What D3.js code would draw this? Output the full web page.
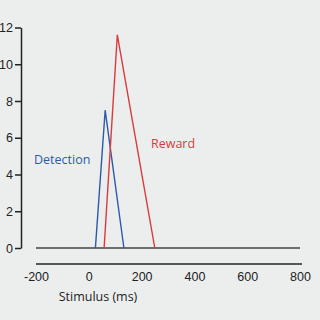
<!DOCTYPE html>
<html>
<head>
<meta charset="utf-8">
<script src="https://cdn.jsdelivr.net/npm/d3@7"></script>
<style>
  body { margin: 0; background: #eceeee; }
  svg { display: block; font-family: "Open Sans", sans-serif; }
</style>
</head>
<body>
<div id="chart"></div>
<script>
// values
const xTicks = [-200, 0, 200, 400, 600, 800];
const yTicks = [0, 2, 4, 6, 8, 10, 12];
const baseline = [[-200, 0], [800, 0]];
const detection = [[25, 0], [62, 7.5], [133, 0]];
const reward = [[58, 0], [108, 11.6], [250, 0]];

const W = 320, H = 320;

const svg = d3.select("#chart").append("svg")
  .attr("width", W)
  .attr("height", H);

const x = d3.scaleLinear().domain([-200, 800]).range([36, 300]);
const y = d3.scaleLinear().domain([0, 12]).range([248, 27.5]);

// y axis
const yAxis = svg.append("g")
  .attr("transform", "translate(21,0)")
  .call(d3.axisLeft(y).tickValues(yTicks).tickSize(6).tickSizeOuter(0).tickPadding(2));
yAxis.select(".domain").attr("stroke", "#222").attr("stroke-width", 1.5);
yAxis.selectAll(".tick line").attr("stroke", "#222").attr("stroke-width", 1.5);
yAxis.selectAll("text").attr("fill", "#222").style("font-size", "12.5px");

// x axis (no tick marks)
const xAxis = svg.append("g")
  .attr("transform", "translate(0,264)")
  .call(d3.axisBottom(x).tickValues(xTicks).tickFormat(d => String(d))
    .tickSize(0).tickPadding(8).tickSizeOuter(0));
xAxis.select(".domain").attr("stroke", "#222").attr("stroke-width", 1.5)
  .attr("d", `M${x(-200)},0H${x(800) + 2}`);
xAxis.selectAll("text").attr("fill", "#222").style("font-size", "12.5px");

svg.append("text")
  .attr("x", 98).attr("y", 301)
  .attr("text-anchor", "middle")
  .attr("fill", "#222")
  .style("font-size", "12.5px")
  .text("Stimulus (ms)");

const line = d3.line().x(d => x(d[0])).y(d => y(d[1]));

svg.append("path").datum(baseline)
  .attr("d", line).attr("fill", "none")
  .attr("stroke", "#444").attr("stroke-width", 1.5);

svg.append("path").datum(detection)
  .attr("d", line).attr("fill", "none")
  .attr("stroke", "#2d5aa8").attr("stroke-width", 1.4);

svg.append("path").datum(reward)
  .attr("d", line).attr("fill", "none")
  .attr("stroke", "#d93b3b").attr("stroke-width", 1.4);

svg.append("text")
  .attr("x", 34).attr("y", 164)
  .attr("fill", "#2d5aa8")
  .style("font-size", "12.5px")
  .text("Detection");

svg.append("text")
  .attr("x", 151).attr("y", 148)
  .attr("fill", "#d93b3b")
  .style("font-size", "12.5px")
  .text("Reward");
</script>
</body>
</html>
